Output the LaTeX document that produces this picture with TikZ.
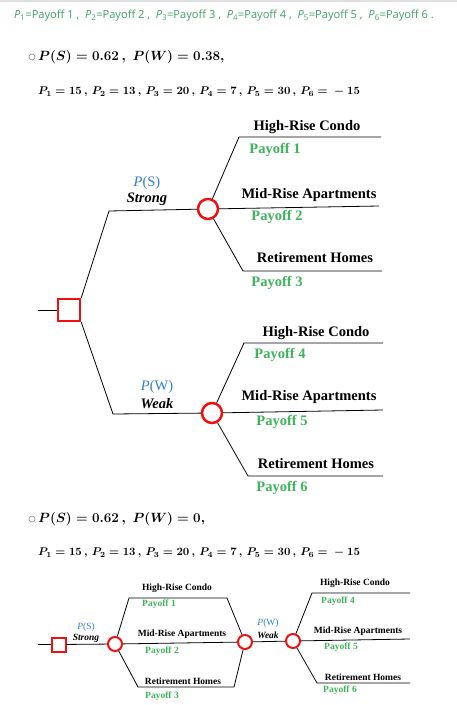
\RequirePackage{fix-cm}
\documentclass[tikz,border=0pt]{standalone}
\usepackage{amsmath}
\usepackage{fontspec}
\setmainfont{Liberation Serif}
\newfontfamily\notefont{Open Sans}
\usepackage{tikz}
\definecolor{notegreen}{HTML}{3FA064}
\definecolor{paygreen}{HTML}{3DB35A}
\definecolor{probblue}{HTML}{2F7FD0}
\definecolor{nodered}{HTML}{F01010}

\begin{document}
\begin{tikzpicture}[x=1pt,y=-1pt,
    decbox/.style={rectangle, draw=nodered, line width=2.5pt, minimum size=22pt, inner sep=0pt},
    chancenode/.style={circle, draw=nodered, line width=2.5pt, minimum size=20pt, inner sep=0pt},
    decsmall/.style={rectangle, draw=nodered, line width=2pt, minimum size=14pt, inner sep=0pt},
    chancesmall/.style={circle, draw=nodered, line width=2pt, minimum size=14pt, inner sep=0pt},
    branch/.style={line width=0.8pt},
    altlbl/.style={inner sep=0pt, font=\fontsize{14.5}{16}\selectfont\bfseries},
    paylbl/.style={inner sep=0pt, text=paygreen, font=\fontsize{14.5}{16}\selectfont\bfseries},
    problbl/.style={inner sep=0pt, text=probblue, font=\fontsize{14.5}{16}\selectfont},
    statelbl/.style={inner sep=0pt, font=\fontsize{14.5}{16}\selectfont\bfseries\itshape},
    altsmall/.style={inner sep=0pt, font=\fontsize{9.5}{11}\selectfont\bfseries},
    paysmall/.style={inner sep=0pt, text=paygreen, font=\fontsize{9.5}{11}\selectfont\bfseries},
    probsmall/.style={inner sep=0pt, text=probblue, font=\fontsize{9.5}{11}\selectfont},
    statesmall/.style={inner sep=0pt, font=\fontsize{9.5}{11}\selectfont\bfseries\itshape},
    mathline/.style={inner sep=0pt, anchor=west, font=\fontsize{13.4}{15}\selectfont\boldmath},
    valline/.style={inner sep=0pt, anchor=west, font=\fontsize{11.2}{14}\selectfont\boldmath},
    bullet/.style={draw=gray, line width=0.6pt}]
  \useasboundingbox (0,0) rectangle (457,705);
  \draw[gray!25, line width=1.5pt] (0,0.75) -- (457,0.75);

  % notation line
  \node[inner sep=0pt, anchor=west, text=notegreen, font=\notefont\fontsize{11.1}{13}\selectfont] (legend) at (14,16)
    {\textit{P}\textsubscript{1}=Payoff 1 ,\ \ \textit{P}\textsubscript{2}=Payoff 2 ,\ \ \textit{P}\textsubscript{3}=Payoff 3 ,\ \ \textit{P}\textsubscript{4}=Payoff 4 ,\ \ \textit{P}\textsubscript{5}=Payoff 5 ,\ \ \textit{P}\textsubscript{6}=Payoff 6 .};

  % case 1
  \draw[bullet] (32,57) circle (3pt);
  \node[mathline] (probs1) at (38,57) {$P(S) = 0.62\,,\;P(W) = 0.38,$};
  \node[valline] (vals1) at (38,92) {$P_1 = 15\,,\,P_2 = 13\,,\,P_3 = 20\,,\,P_4 = 7\,,\,P_5 = 30\,,\,P_6 = {}-15$};

  \node[decbox] (d1) at (69,310) {};
  \coordinate (d1in) at (38,310);
  \coordinate (s1) at (109,211);
  \coordinate (w1) at (113,414);
  \node[chancenode] (c1) at (208,209) {};
  \node[chancenode] (c2) at (212,413) {};
  \draw[branch] (d1in) -- (d1);
  \draw[branch] (d1.north east) -- (s1) -- (c1);
  \draw[branch] (d1.south east) -- (w1) -- (c2);
  \node[problbl] (ps1) at (147,183) {\textit{P}(S)};
  \node[statelbl] (st1) at (147,199) {Strong};
  \node[problbl] (pw1) at (157,387) {\textit{P}(W)};
  \node[statelbl] (wk1) at (157,404) {Weak};

  % strong market
  \coordinate (a1) at (239,137);  \coordinate (a1e) at (381,137);
  \coordinate (b1e) at (379,206);
  \coordinate (r1) at (243,271);  \coordinate (r1e) at (382,271);
  \draw[branch] (c1) -- (a1) -- (a1e);
  \draw[branch] (c1) -- (b1e);
  \draw[branch] (c1) -- (r1) -- (r1e);
  \node[altlbl] (h1) at (307,127) {High-Rise Condo};
  \node[paylbl] (p1) at (275,150) {Payoff 1};
  \node[altlbl] (m1) at (309,195) {Mid-Rise Apartments};
  \node[paylbl] (p2) at (277,217) {Payoff 2};
  \node[altlbl] (t1) at (315,258) {Retirement Homes};
  \node[paylbl] (p3) at (277,283) {Payoff 3};

  % weak market
  \coordinate (a2) at (244,343);  \coordinate (a2e) at (383,343);
  \coordinate (b2e) at (383,410);
  \coordinate (r2) at (248,476);  \coordinate (r2e) at (383,476);
  \draw[branch] (c2) -- (a2) -- (a2e);
  \draw[branch] (c2) -- (b2e);
  \draw[branch] (c2) -- (r2) -- (r2e);
  \node[altlbl] (h2) at (316,333) {High-Rise Condo};
  \node[paylbl] (p4) at (280,355) {Payoff 4};
  \node[altlbl] (m2) at (309,397) {Mid-Rise Apartments};
  \node[paylbl] (p5) at (282,422) {Payoff 5};
  \node[altlbl] (t2) at (316,464) {Retirement Homes};
  \node[paylbl] (p6) at (282,488) {Payoff 6};

  % case 2
  \draw[bullet] (32,519) circle (3pt);
  \node[mathline] (probs2) at (38,519) {$P(S) = 0.62\,,\;P(W) = 0,$};
  \node[valline] (vals2) at (38,553) {$P_1 = 15\,,\,P_2 = 13\,,\,P_3 = 20\,,\,P_4 = 7\,,\,P_5 = 30\,,\,P_6 = {}-15$};

  \node[decsmall] (d2) at (58.5,644.5) {};
  \coordinate (d2in) at (38,644.5);
  \node[chancesmall] (c3) at (115,644) {};
  \node[chancesmall] (c4) at (245,642) {};
  \node[chancesmall] (c5) at (293,641) {};
  \draw[branch] (d2in) -- (d2);
  \draw[branch] (d2) -- (c3);
  \node[probsmall] (ps2) at (86,627) {\textit{P}(S)};
  \node[statesmall] (st2) at (86,638) {Strong};

  % first stage
  \coordinate (a3) at (129,598);  \coordinate (a3e) at (227,598);
  \coordinate (r3) at (138,687);  \coordinate (r3e) at (234,687);
  \draw[branch] (c3) -- (a3) -- (a3e) -- (c4);
  \draw[branch] (c3) -- (c4);
  \draw[branch] (c3) -- (r3) -- (r3e) -- (c4);
  \node[altsmall] (h3) at (177,588) {High-Rise Condo};
  \node[paysmall] (q1) at (159,604) {Payoff 1};
  \node[altsmall] (m3) at (182,634) {Mid-Rise Apartments};
  \node[paysmall] (q2) at (162,651) {Payoff 2};
  \node[altsmall] (t3) at (183,681) {Retirement Homes};
  \node[paysmall] (q3) at (162,696) {Payoff 3};

  \draw[branch] (c4) -- (c5);
  \node[probsmall] (pw2) at (268,623) {\textit{P}(W)};
  \node[statesmall] (wk2) at (268,635) {Weak};

  % second stage
  \coordinate (a4) at (312,593);  \coordinate (a4e) at (410,593);
  \coordinate (b4e) at (410,639);
  \coordinate (r4) at (317,683);  \coordinate (r4e) at (410,683);
  \draw[branch] (c5) -- (a4) -- (a4e);
  \draw[branch] (c5) -- (b4e);
  \draw[branch] (c5) -- (r4) -- (r4e);
  \node[altsmall] (h4) at (355,583) {High-Rise Condo};
  \node[paysmall] (q4) at (338,601) {Payoff 4};
  \node[altsmall] (m4) at (358,631) {Mid-Rise Apartments};
  \node[paysmall] (q5) at (341,647) {Payoff 5};
  \node[altsmall] (t4) at (363,677) {Retirement Homes};
  \node[paysmall] (q6) at (340,690) {Payoff 6};
\end{tikzpicture}
\end{document}
